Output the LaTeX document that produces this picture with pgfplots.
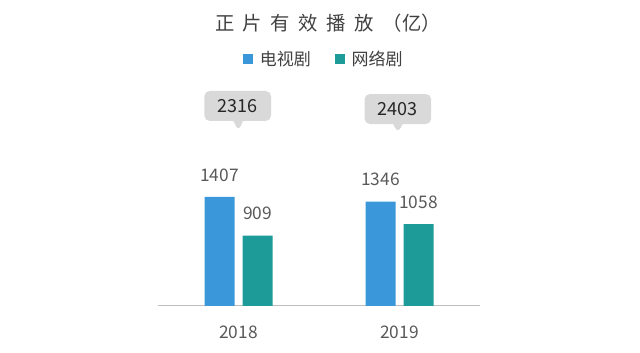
\documentclass[border=0pt]{standalone}
\usepackage{fontspec}
\setmainfont{Noto Sans CJK SC}
\usepackage{pgfplots}
\pgfplotsset{compat=1.18}
\usetikzlibrary{shapes.callouts}
\definecolor{cblue}{HTML}{3A98DA}
\definecolor{cteal}{HTML}{1D9B98}
\definecolor{cgray}{HTML}{D9D9D9}
\definecolor{ctext}{HTML}{595959}
\definecolor{ctitle}{HTML}{404040}
\definecolor{caxis}{HTML}{BFBFBF}
\begin{document}
\begin{tikzpicture}
\path[use as bounding box] (0,0) rectangle (480pt,264.75pt);
\node[text=ctitle, font=\fontsize{14.5}{17}\selectfont, inner sep=0pt] at (246pt,247.1pt)
  {正\hspace{6.5pt}片\hspace{6.5pt}有\hspace{6.5pt}效\hspace{6.5pt}播\hspace{6.5pt}放\hspace{6.5pt}（亿）};
\begin{axis}[
  at={(118.5pt,35.25pt)}, anchor=south west,
  scale only axis,
  x=120.75pt, y=0.058125pt,
  xmin=-0.5, xmax=1.5, ymin=0, ymax=3200,
  clip=false,
  ybar=6pt, bar width=22.5pt,
  hide y axis,
  axis x line*=bottom,
  axis line style={caxis, line width=0.75pt},
  xtick={0,1}, xticklabels={2018,2019},
  major tick length=0pt,
  xticklabel style={text=ctext, font=\fontsize{13}{15}\selectfont, anchor=north, inner sep=0pt, yshift=-15pt},
  /pgf/number format/assume math mode=true,
  /pgf/number format/1000 sep={},
  nodes near coords,
  every node near coord/.append style={text=ctext, font=\fontsize{13}{15}\selectfont, anchor=center, inner sep=0pt, yshift=16.5pt},
  legend columns=2,
  legend style={at={(0.512,0.996)}, anchor=center, draw=none, fill=none,
    font=\fontsize{12.75}{15}\selectfont, text=ctitle,
    nodes={inner sep=0pt},
    /tikz/every odd column/.append style={column sep=5pt},
    /tikz/every even column/.append style={column sep=18pt}},
  legend image code/.code={\fill[#1] (0pt,-3.75pt) rectangle (7.5pt,3.75pt);},
]
\addplot[fill=cblue, draw=none] coordinates {(0,1407) (1,1346)};
\addplot[fill=cteal, draw=none] coordinates {(0,909) (1,1058)};
\legend{电视剧,网络剧}
\node[rectangle callout, fill=cgray, rounded corners=4pt, minimum width=50pt, minimum height=22.5pt,
  inner sep=0pt, text=black!85, font=\fontsize{13.5}{16}\selectfont,
  callout absolute pointer={(axis cs:0,2258)}] at (axis cs:-0.005,2581) {2316};
\node[rectangle callout, fill=cgray, rounded corners=4pt, minimum width=50pt, minimum height=22.5pt,
  inner sep=0pt, text=black!85, font=\fontsize{13.5}{16}\selectfont,
  callout absolute pointer={(axis cs:0.99,2235)}] at (axis cs:0.99,2542) {2403};
\end{axis}
\end{tikzpicture}
\end{document}
